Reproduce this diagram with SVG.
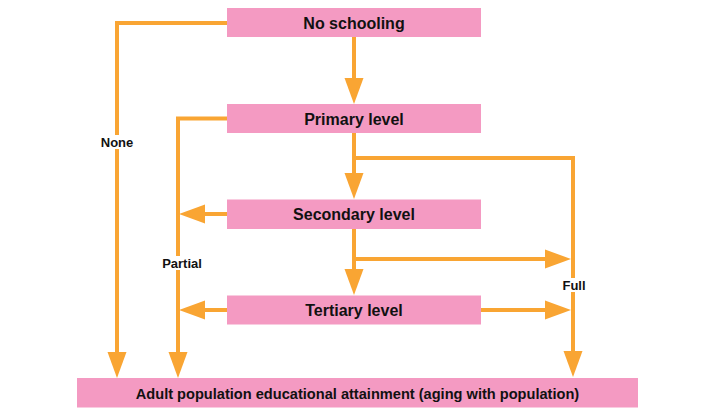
<svg xmlns="http://www.w3.org/2000/svg" width="712" height="417" viewBox="0 0 712 417">
<defs>
<style>
.box{fill:#F49AC2;}
.bt{font-family:"Liberation Sans",Arial,sans-serif;font-weight:bold;font-size:16px;fill:#111;text-anchor:middle;}
.lt{font-family:"Liberation Sans",Arial,sans-serif;font-weight:bold;font-size:13px;fill:#111;text-anchor:middle;}
.ln{fill:none;stroke:#F9A533;stroke-width:4;}
.lb{fill:#fff;}
</style>
<marker id="ah" markerUnits="userSpaceOnUse" markerWidth="26" markerHeight="19" refX="0" refY="9.5" orient="auto" overflow="visible">
<path d="M0,0 L26,9.5 L0,19 z" fill="#F9A533"/>
</marker>
</defs>
<rect width="712" height="417" fill="#fff"/>
<g id="connectors">
<path class="ln" d="M227,23 H117 V352" marker-end="url(#ah)"/>
<path class="ln" d="M227,118.5 H178 V352" marker-end="url(#ah)"/>
<path class="ln" d="M354,37 V78" marker-end="url(#ah)"/>
<path class="ln" d="M354,133 V173" marker-end="url(#ah)"/>
<path class="ln" d="M354,158 H573 V351" marker-end="url(#ah)"/>
<path class="ln" d="M227,214 H205" marker-end="url(#ah)"/>
<path class="ln" d="M354,229 V269" marker-end="url(#ah)"/>
<path class="ln" d="M354,259 H545" marker-end="url(#ah)"/>
<path class="ln" d="M227,310 H205" marker-end="url(#ah)"/>
<path class="ln" d="M481,310 H545" marker-end="url(#ah)"/>
<g id="label-none"><rect class="lb" x="100" y="135" width="34" height="14"/><text class="lt" x="117" y="146.5">None</text></g>
<g id="label-partial"><rect class="lb" x="161" y="256" width="42" height="14"/><text class="lt" x="182" y="267.5">Partial</text></g>
<g id="label-full"><rect class="lb" x="561" y="278" width="26" height="14"/><text class="lt" x="574" y="290">Full</text></g>
</g>
<g id="node-no-schooling"><rect class="box" x="227" y="8" width="254" height="29"/><text class="bt" x="354" y="29">No schooling</text></g>
<g id="node-primary"><rect class="box" x="227" y="104" width="254" height="29"/><text class="bt" x="354" y="124.5">Primary level</text></g>
<g id="node-secondary"><rect class="box" x="227" y="199.5" width="254" height="29.5"/><text class="bt" x="354" y="220">Secondary level</text></g>
<g id="node-tertiary"><rect class="box" x="227" y="295.5" width="254" height="29"/><text class="bt" x="354" y="316">Tertiary level</text></g>
<g id="node-adult"><rect class="box" x="77" y="378" width="561" height="29.5"/><text class="bt" x="357.5" y="398.5" style="font-size:14.6px">Adult population educational attainment (aging with population)</text></g>
</svg>
